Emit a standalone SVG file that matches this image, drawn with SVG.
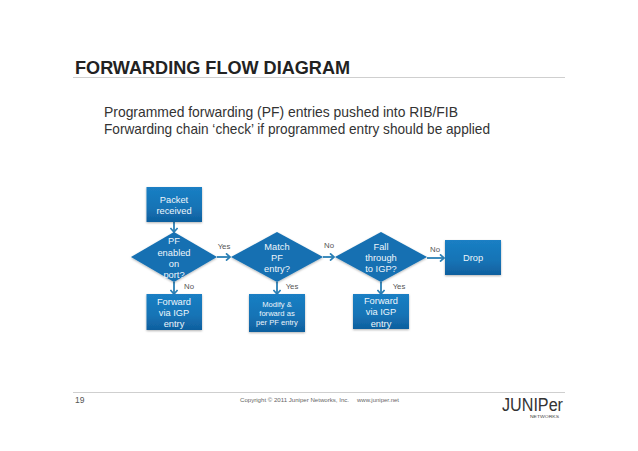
<svg xmlns="http://www.w3.org/2000/svg" width="638" height="451" viewBox="0 0 638 451">
<defs>
<linearGradient id="g" x1="0" y1="0" x2="0" y2="1"><stop offset="0" stop-color="#1a7fc4"/><stop offset="0.6" stop-color="#1673b5"/><stop offset="1" stop-color="#0f5f9e"/></linearGradient>
<filter id="s" x="-10%" y="-10%" width="120%" height="125%"><feDropShadow dx="0" dy="1" stdDeviation="0.8" flood-color="#000" flood-opacity="0.3"/></filter>
<marker id="a" viewBox="0 0 10 10" refX="9" refY="5" markerWidth="8" markerHeight="8" orient="auto" markerUnits="userSpaceOnUse"><path d="M4 0.500L9 5L4 9.500" fill="none" stroke="#2a7fb5" stroke-width="2.200"/></marker>
</defs>
<style>
text{font-family:"Liberation Sans",Arial,sans-serif}
.b{fill:url(#g);filter:url(#s)}
.d{fill:#1470b2;filter:url(#s)}
.t{fill:#eef5fb;font-size:9.300px;text-anchor:middle}
.t2{fill:#eef5fb;font-size:7.600px;text-anchor:middle}
.l{fill:#555;font-size:7.800px;text-anchor:middle}
.c{fill:none;stroke:#2a7fb5;stroke-width:1.800;marker-end:url(#a)}
.r{stroke:#cfcfcf;stroke-width:1;fill:none}
</style>
<rect width="638" height="451" fill="#fff"/>
<path class="r" d="M73 77.500H565M73 392.500H565"/>
<text x="75" y="73.500" font-size="18.100" font-weight="700" fill="#222">FORWARDING FLOW DIAGRAM</text>
<text x="104" y="116.500" font-size="13.900" fill="#333" textLength="354" lengthAdjust="spacingAndGlyphs">Programmed forwarding (PF) entries pushed into RIB/FIB</text>
<text x="104" y="133.500" font-size="13.900" fill="#333" textLength="386" lengthAdjust="spacingAndGlyphs">Forwarding chain ‘check’ if programmed entry should be applied</text>
<g id="connectors">
<path class="c" d="M174 222V232"/>
<path class="c" d="M174 282V294"/>
<path class="c" d="M217 257H230"/>
<path class="c" d="M277 282V294"/>
<path class="c" d="M323 257H334"/>
<path class="c" d="M381 282V294"/>
<path class="c" d="M427 258H444"/>
</g>
<g id="packet"><rect class="b" x="146.500" y="187" width="55.500" height="35"/><text class="t" x="174" y="203">Packet</text><text class="t" x="174" y="214">received</text></g>
<g id="pf-enabled"><polygon class="d" points="131,257 174,232 217,257 174,282"/><text class="t" x="174" y="244">PF</text><text class="t" x="174" y="256">enabled</text><text class="t" x="174" y="267">on</text><text class="t" x="174" y="278">port?</text></g>
<g id="forward-1"><rect class="b" x="146.500" y="294" width="55.500" height="36"/><text class="t" x="174" y="305">Forward</text><text class="t" x="174" y="316">via IGP</text><text class="t" x="174" y="327">entry</text></g>
<g id="match"><polygon class="d" points="231,257 277,232 323,257 277,282"/><text class="t" x="277" y="250">Match</text><text class="t" x="277" y="261">PF</text><text class="t" x="277" y="272">entry?</text></g>
<g id="modify"><rect class="b" x="249" y="294" width="56" height="38"/><text class="t2" x="277" y="307">Modify &amp;</text><text class="t2" x="277" y="316">forward as</text><text class="t2" x="277" y="325">per PF entry</text></g>
<g id="fall"><polygon class="d" points="335,257 381,232 427,257 381,282"/><text class="t" x="381" y="250">Fall</text><text class="t" x="381" y="261">through</text><text class="t" x="381" y="272">to IGP?</text></g>
<g id="forward-3"><rect class="b" x="353" y="294" width="56" height="35"/><text class="t" x="381" y="304">Forward</text><text class="t" x="381" y="315">via IGP</text><text class="t" x="381" y="327">entry</text></g>
<g id="drop"><rect class="b" x="445" y="240" width="56" height="35"/><text class="t" x="473" y="261">Drop</text></g>
<g id="labels">
<text class="l" x="224" y="249">Yes</text><text class="l" x="329" y="248">No</text><text class="l" x="435" y="252">No</text>
<text class="l" x="189" y="289">No</text><text class="l" x="292" y="289">Yes</text><text class="l" x="399" y="289">Yes</text>
</g>
<text x="75" y="402.500" font-size="8.500" fill="#555">19</text>
<text x="240" y="402" font-size="6.100" fill="#666">Copyright © 2011 Juniper Networks, Inc.</text>
<text x="357" y="402" font-size="6" fill="#666">www.juniper.net</text>
<text x="502" y="411" font-family="Lato" font-weight="100" font-size="18" fill="#333" textLength="61" lengthAdjust="spacingAndGlyphs">JUNIPer</text>
<text x="530" y="417.500" font-size="4.400" fill="#444" textLength="29" lengthAdjust="spacingAndGlyphs">NETWORKS</text>
</svg>
